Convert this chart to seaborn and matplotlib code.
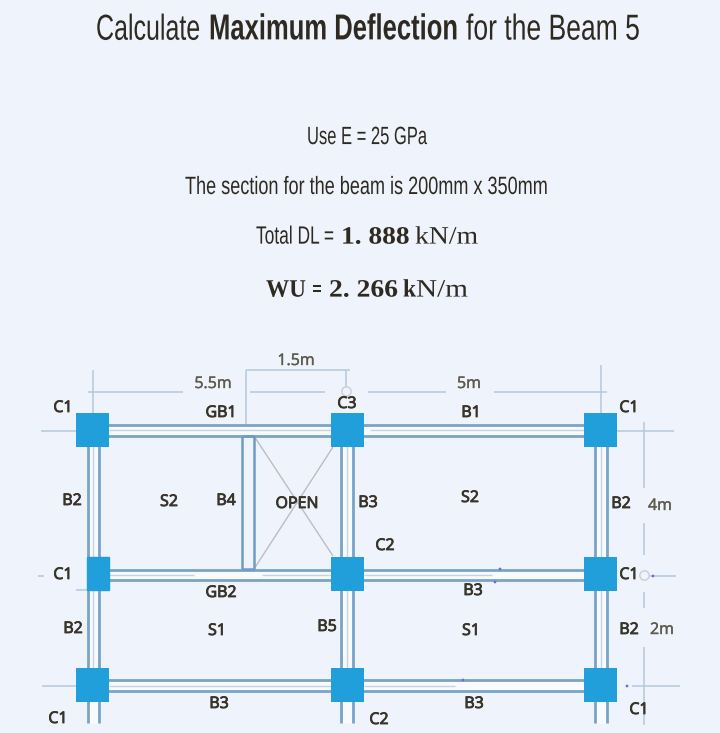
import matplotlib
matplotlib.use('Agg')
import matplotlib.pyplot as plt
from matplotlib.patches import Rectangle
from matplotlib.patheffects import AbstractPathEffect, withStroke
from matplotlib.transforms import Affine2D
import seaborn as sns
import pandas as pd

col_x = [92.5, 347.5, 600.5, 92.5, 347.5, 600.5, 92.5, 347.5, 600.5]
col_y = [430, 430, 430, 574, 574, 574, 685, 685, 685]

row_y = [424.5, 435.5, 569.5, 580, 680, 691]
row_x0 = [105, 105, 105, 105, 105, 105]
row_x1 = [590, 590, 590, 590, 590, 590]

stem_x = [87.5, 99, 341, 352.5, 595, 606.5]
stem_y0 = [440, 440, 440, 440, 440, 440]
stem_y1 = [723, 723, 723, 723, 723, 723]

# white inside of the beams
band_x = [105, 105, 105, 93, 347, 601]
band_x1 = [590, 590, 590, 93, 347, 601]
band_y = [430, 575, 685.5, 446, 446, 446]
band_y1 = [430, 575, 685.5, 723, 723, 723]

b4_x = [241.5, 254, 241.5, 241.5]
b4_x1 = [241.5, 254, 254, 254]
b4_y = [436, 436, 436, 569]
b4_y1 = [569, 569, 436, 569]

open_x = [254, 254]
open_x1 = [333, 333]
open_y = [436, 569]
open_y1 = [556, 447]

# thin pale centre lines of the beams
centre_x = [109, 370, 109, 262, 364, 109, 364, 93, 347, 601]
centre_x1 = [331, 584, 194, 331, 492, 331, 455, 93, 347, 601]
centre_y = [430, 430, 575, 575, 575, 686, 686, 446, 446, 446]
centre_y1 = [430, 430, 575, 575, 575, 686, 686, 668, 668, 668]

# dimension lines
dim_x = [88, 250, 368, 494, 92.5, 600.5, 246, 246, 346, 617, 650, 632, 41, 42, 38, 76, 644, 644, 644, 644]
dim_x1 = [183, 325, 446, 607, 92.5, 600.5, 350, 246, 346, 674, 676, 680, 76, 76, 44, 87, 644, 644, 644, 644]
dim_y = [391.5, 391.5, 391.5, 391.5, 370, 365, 369.5, 369.5, 369.5, 431, 575.5, 686, 431, 686, 576, 590, 422, 523, 592, 647]
dim_y1 = [391.5, 391.5, 391.5, 391.5, 413, 413, 369.5, 435, 391, 431, 575.5, 686, 431, 686, 576, 590, 488, 555, 608, 725]

# small scan artefacts along the lines
ring_x = [346, 644]
ring_y = [391, 575]
speck_x = [500, 495, 463, 653, 627]
speck_y = [569, 582, 680, 576, 686]

labels = ['C1', 'C1', 'C1', 'GB1', 'C3', 'B2', 'S2', 'B4', 'OPEN', 'B3', 'B2', 'GB2', 'S1', 'B5', 'B3',
          'B1', 'S2', 'C2', 'B3', 'S1', 'B3', 'C2', 'C1', 'B2', 'C1', 'B2', 'C1']
label_x = [63, 63, 58, 221, 347, 72, 169, 226, 297, 368, 73, 221, 217, 327, 219,
           471, 470, 385, 473, 471, 474, 379, 629, 621, 629, 629, 639]
label_y = [408, 575, 719, 413, 404, 501, 502, 501, 504, 503, 629, 593, 631, 627, 704,
           413, 498, 546, 591, 631, 704, 720, 408, 504, 575, 630, 710]

dim_labels = ['4m', '2m', '5.5m', '1.5m', '5m']
dim_label_x = [660, 662, 213, 296, 469]
dim_label_y = [506, 630, 384, 361, 384]

BG = '#eff4fc'
TEXT = '#2e2a22'
BLUE = '#219fdb'
NARROW = 'Liberation Sans'
SERIF = 'Liberation Serif'

sns.set_theme(style='white')
plt.rcParams['font.family'] = ['Open Sans', 'DejaVu Sans']

fig, ax = plt.subplots(figsize=(7.2, 7.33), dpi=100, facecolor=BG)
ax.set_position([0, 0, 1, 1])
ax.set_facecolor(BG)
ax.set_xlim(0, 720)
ax.set_ylim(733, 0)
ax.axis('off')


class Tall(AbstractPathEffect):
    # no condensed font is installed, so a small font gets stretched upwards at draw time
    def __init__(self, y0, sy):
        super().__init__()
        self.y0 = y0
        self.sy = sy

    def draw_path(self, renderer, gc, tpath, affine, rgbFace=None):
        stretch = Affine2D().translate(0, -self.y0).scale(1, self.sy).translate(0, self.y0)
        renderer.draw_path(gc, tpath, affine + stretch, rgbFace)


def segments(x0, x1, y0, y1):
    rows = []
    for i, (a, b, c, d) in enumerate(zip(x0, x1, y0, y1)):
        rows.append({'seg': i, 'x': a, 'y': c})
        rows.append({'seg': i, 'x': b, 'y': d})
    return pd.DataFrame(rows)


def draw(x0, x1, y0, y1, color, lw):
    sns.lineplot(data=segments(x0, x1, y0, y1), x='x', y='y', units='seg', estimator=None,
                 sort=False, color=color, lw=lw, ax=ax, legend=False, solid_capstyle='butt')


draw(dim_x, dim_x1, dim_y, dim_y1, '#b4c8dc', 1.1)
draw(open_x, open_x1, open_y, open_y1, '#b3bfce', 1.0)
draw(band_x, band_x1, band_y, band_y1, '#f8fbfe', 6.5)
draw(centre_x, centre_x1, centre_y, centre_y1, '#c3d3e2', 1.0)
draw(row_x0, row_x1, row_y, row_y, '#7ba3c6', 2.0)
draw(stem_x, stem_x, stem_y0, stem_y1, '#7ba3c6', 2.0)
draw(b4_x, b4_x1, b4_y, b4_y1, '#6f9cc2', 1.8)

sns.scatterplot(x=ring_x, y=ring_y, marker='o', s=45, facecolor=BG, edgecolor='#c9ced6', linewidth=1, ax=ax, legend=False, zorder=3)
sns.scatterplot(x=speck_x, y=speck_y, marker='o', s=4, color='#6a6ee0', edgecolor='none', ax=ax, legend=False, zorder=4)

# columns, the middle-left one is narrower so it gets a rectangle instead
frame = pd.DataFrame({'x': col_x, 'y': col_y})
keep = frame.drop(index=3)
sns.scatterplot(data=keep, x='x', y='y', marker='s', s=575, color=BLUE, edgecolor='none',
                ax=ax, legend=False, zorder=5)
ax.add_patch(Rectangle((87, 557), 22, 33, color=BLUE, zorder=5))
ax.set_xlabel('')
ax.set_ylabel('')

for s, x, y in zip(labels, label_x, label_y):
    ax.text(x, y, s, ha='center', va='center', fontsize=11.5, color='#38342a', zorder=6,
            path_effects=[withStroke(linewidth=0.6, foreground='#38342a')])
for s, x, y in zip(dim_labels, dim_label_x, dim_label_y):
    ax.text(x, y, s, ha='center', va='center', fontsize=11.5, color='#5e5a4e', zorder=6,
            path_effects=[withStroke(linewidth=0.3, foreground='#5e5a4e')])

renderer = fig.canvas.get_renderer()


def fitted(s, x0, x1, y, family, size, weight='normal'):
    # font size sets the width the string spans in the reference, the effect restores the height
    t = ax.text(x0, y, s, family=family, fontweight=weight, fontsize=size, ha='left',
                va='center_baseline', color=TEXT)
    w = t.get_window_extent(renderer).width
    small = size * (x1 - x0) / w
    t.set_fontsize(small)
    t.set_path_effects([Tall(ax.transData.transform((x0, y))[1], size / small)])
    return t


fitted('Calculate', 96, 200, 26, NARROW, 26)
fitted('Maximum Deflection', 209, 458, 26, NARROW, 26, 'bold')
fitted('for the Beam 5', 466, 640, 26, NARROW, 26)
fitted('Use E = 25 GPa', 307, 427, 135, NARROW, 18)
fitted('The section for the beam is 200mm x 350mm', 185, 548, 185, NARROW, 18)
fitted('Total DL =', 256, 334, 235, NARROW, 18)
fitted('1. 888', 341, 410, 235, SERIF, 18, 'bold')
fitted('kN/m', 415, 478, 235, SERIF, 18)
fitted('WU', 266, 306, 288, SERIF, 18, 'bold')
fitted('=', 312, 322, 288, NARROW, 16)
fitted('2. 266', 329, 398, 288, SERIF, 18, 'bold')
fitted('k', 403, 416, 288, SERIF, 18, 'bold')
fitted('N/m', 416, 468, 288, SERIF, 18)

fig.savefig('out.png', dpi=100, facecolor=BG)
